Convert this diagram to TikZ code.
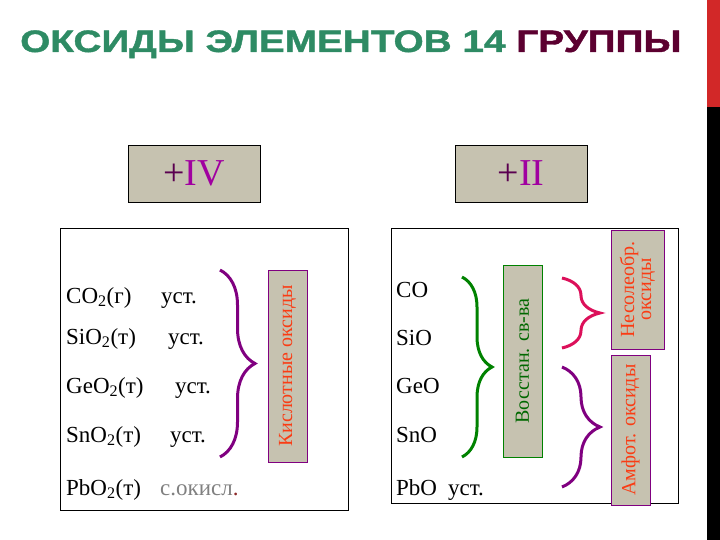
\documentclass[tikz,border=0pt]{standalone}
\usepackage{fontspec}
\setmainfont{Liberation Serif}
\newfontfamily\titlefont[BoldFeatures={FakeBold=1.2}]{Liberation Sans}
\usetikzlibrary{decorations.pathreplacing}
\definecolor{titlegreen}{RGB}{46,139,100}
\definecolor{titlemaroon}{RGB}{92,0,48}
\definecolor{boxfill}{RGB}{198,194,176}
\definecolor{oxpurple}{RGB}{128,0,128}
\definecolor{labred}{RGB}{250,60,20}
\definecolor{bracegreen}{RGB}{0,130,0}
\definecolor{bracepink}{RGB}{220,16,90}
\definecolor{valviolet}{RGB}{160,0,160}
\definecolor{valdark}{RGB}{90,0,80}
\definecolor{barred}{RGB}{210,40,40}
\definecolor{dotred}{RGB}{140,40,40}
\tikzset{
  formula/.style={anchor=base west, inner sep=0pt, font=\fontsize{23}{26}\selectfont},
  stable/.style={formula},
  valbox/.style={draw=black, thick, fill=boxfill, minimum width=132pt, minimum height=57pt,
    font=\fontsize{38}{42}\selectfont, text=valviolet},
  sidebox/.style={fill=boxfill, rotate=90, inner sep=1pt, text=labred,
    font=\fontsize{20}{17}\selectfont},
  bracepath/.style={line width=3pt, decorate, decoration={brace, amplitude=#1}},
}
\begin{document}
\begin{tikzpicture}[x=1pt, y=-1pt]
\useasboundingbox (0,0) rectangle (720,540);
% right edge bars
\fill[barred] (707,0) rectangle (720,107);
\fill[black] (707,107) rectangle (720,540);
% title
\node[anchor=base west, inner sep=0pt, font=\titlefont\bfseries\fontsize{31}{34}\selectfont]
  (title) at (20,52) {\scalebox{1.25}[1]{\textcolor{titlegreen}{ОКСИДЫ ЭЛЕМЕНТОВ 14} \textcolor{titlemaroon}{ГРУППЫ}}};
% valence boxes
\node[valbox] (four) at (194,173.5) {\textcolor{valdark}{+}IV};
\node[valbox] (two) at (521,173.5) {\textcolor{valdark}{+}II};
% frames
\draw[thick] (60,228) rectangle (348,510);
\draw[thick] (391,228) rectangle (678,503);
% oxides +IV
\node[formula] (co2) at (66,303) {CO\textsubscript{2}(г)};
\node[formula] (sio2) at (66,344) {SiO\textsubscript{2}(т)};
\node[formula] (geo2) at (66,393) {GeO\textsubscript{2}(т)};
\node[formula] (sno2) at (66,442) {SnO\textsubscript{2}(т)};
\node[formula] (pbo2) at (66,495) {PbO\textsubscript{2}(т)};
\node[stable] (st1) at (161,303) {уст.};
\node[stable] (st2) at (168,344) {уст.};
\node[stable] (st3) at (175,393) {уст.};
\node[stable] (st4) at (170,442) {уст.};
\node[stable, text=gray] (ox1) at (160,495) {с.окисл\textcolor{dotred}{.}};
% oxides +II
\node[formula] (co) at (396,297) {CO};
\node[formula] (sio) at (396,345) {SiO};
\node[formula] (geo) at (396,393) {GeO};
\node[formula] (sno) at (396,442) {SnO};
\node[formula] (pbo) at (396,495) {PbO};
\node[stable] (st5) at (448,495) {уст.};
% braces
\coordinate (b1top) at (220,270);
\coordinate (b1bot) at (220,457);
\coordinate (b2top) at (462,277);
\coordinate (b2bot) at (462,457);
\coordinate (b3top) at (562,278);
\coordinate (b3bot) at (562,348);
\coordinate (b4top) at (562,367);
\coordinate (b4bot) at (562,487);
\draw[bracepath=35pt, oxpurple] (b1top) -- (b1bot);
\draw[bracepath=30pt, bracegreen] (b2top) -- (b2bot);
\draw[bracepath=38pt, bracepink] (b3top) -- (b3bot);
\draw[bracepath=38pt, oxpurple] (b4top) -- (b4bot);
% side labels
\node[sidebox, draw=oxpurple, minimum width=192pt, minimum height=39pt] (acid) at (287.5,366) {Кислотные оксиды};
\node[sidebox, draw=bracegreen, text=bracegreen!80!black, minimum width=192pt, minimum height=39pt] (redox) at (522.5,361) {Восстан. св-ва};
\node[sidebox, draw=oxpurple, minimum width=119pt, minimum height=53pt, align=center] (neutral) at (637.5,289.5) {Несолеобр.\\оксиды};
\node[sidebox, draw=oxpurple, minimum width=150pt, minimum height=39pt] (amph) at (630.5,430) {Амфот. оксиды};
\end{tikzpicture}
\end{document}
